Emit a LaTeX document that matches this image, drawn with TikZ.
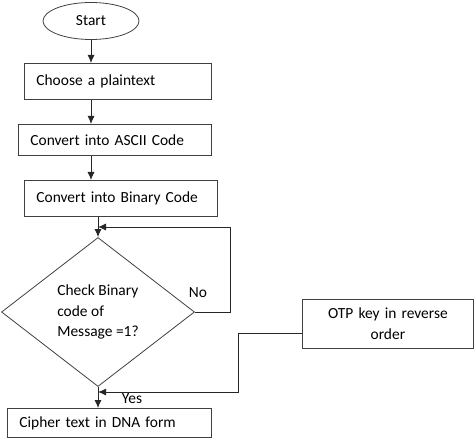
\documentclass[tikz,border=0pt]{standalone}
\usepackage{fontspec}
\setmainfont{Carlito}
\usetikzlibrary{shapes.geometric,arrows.meta}

\begin{document}
\begin{tikzpicture}[x=1bp,y=-1bp,
    every node/.style={font=\fontsize{15.5}{20.5}\selectfont},
    box/.style={draw=black!75, line width=0.8bp, anchor=north west, inner xsep=12bp, inner ysep=0pt, align=left},
    flow/.style={draw=black!85, line width=0.9bp, -{Latex[length=8bp,width=7bp]}}]
    \useasboundingbox (0,0) rectangle (474,438);

    \node[ellipse, draw=black!75, line width=0.8bp, minimum width=96bp, minimum height=37bp, inner sep=0pt] (start) at (91,21) {Start};
    \node[box, text width=163bp, minimum height=36bp] (plain) at (24,63) {Choose a plaintext};
    \node[box, text width=169bp, minimum height=31bp] (ascii) at (18,124) {Convert into ASCII Code};
    \node[box, text width=169bp, minimum height=36bp] (binary) at (24,180) {Convert into Binary Code};
    \node[diamond, draw=black!75, line width=0.8bp, minimum width=193bp, minimum height=149bp, aspect=1.3, inner sep=0pt, align=left] (check) at (98,312) {Check Binary\\code of\\Message =1?};
    \node[box, text width=147bp, minimum height=49bp, align=center] (otp) at (302,299) {OTP key in reverse\\order};
    \node[box, text width=180bp, minimum height=29bp] (cipher) at (7,408) {Cipher text in DNA form};
    \node (no) at (198,293) {No};
    \node (yes) at (132,399) {Yes};

    \coordinate (noturn) at (230,227);
    \coordinate (noin) at (98,227);
    \coordinate (yesturn) at (238,392);
    \coordinate (yesin) at (98,392);

    \draw[flow] (start.south) -- (start.south |- plain.north);
    \draw[flow] (start.south |- plain.south) -- (start.south |- ascii.north);
    \draw[flow] (start.south |- ascii.south) -- (start.south |- binary.north);
    \draw[flow] (check.north |- binary.south) -- (check.north);
    \draw[flow] (check.east) -| (noturn) -- (noin); % no
    \draw[flow] ([yshift=-10bp]otp.west) -| (yesturn) -- (yesin);
    \draw[flow] (check.south) -- (check.south |- cipher.north); % yes
\end{tikzpicture}
\end{document}
